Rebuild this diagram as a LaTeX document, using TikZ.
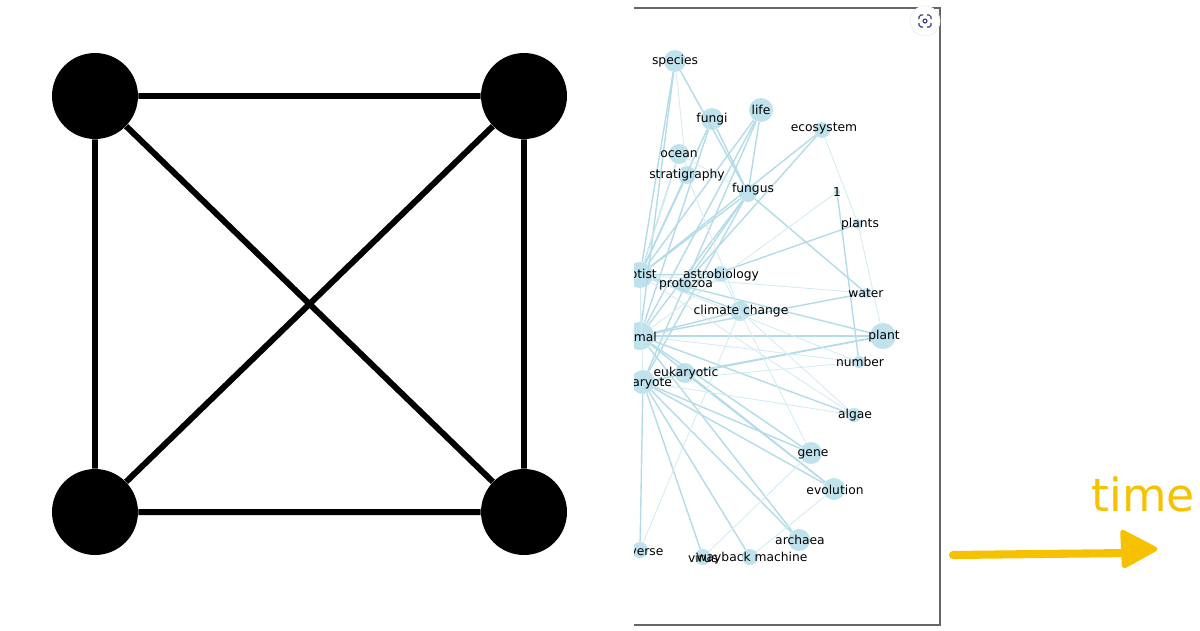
\documentclass[tikz,border=0pt]{standalone}
\usepackage{fontspec}
\setsansfont{DejaVu Sans}
\begin{document}
\begin{tikzpicture}[x=0.02cm,y=-0.02cm,
  big/.style={circle,fill=black,minimum size=1.72cm,inner sep=0pt},
  kedge/.style={line width=3.4pt},
  lbl/.style={font=\sffamily\fontsize{7pt}{8pt}\selectfont,text=black,inner sep=0pt},
  ed/.style={draw=edc,line width=0.8pt},
  edl/.style={draw=edc!55,line width=0.5pt}]
\definecolor{bubc}{HTML}{BFE2EC}
\definecolor{edc}{HTML}{B3DBE8}
\useasboundingbox (0,0) rectangle (1200,630);
% complete graph K4
\node[big] (a) at (95,96) {};
\node[big] (b) at (524,96) {};
\node[big] (c) at (95,512) {};
\node[big] (d) at (524,512) {};
\draw[kedge] (a)--(b) (b)--(d) (d)--(c) (c)--(a) (a)--(d) (b)--(c);
% network panel
\begin{scope}
\clip (634,8) rectangle (941,626);
\foreach \n/\x/\y/\r in {species/675/61/11, fungi/712/119/11, life/761/110/12, ecosystem/822/130/8,
 ocean/679/154/10, strat/687/175/9, fungus/748/193/9, one/837/192/3, plants/858/224/5,
 protist/640/275/13, astro/721/274/8, protozoa/684/285/8, water/866/293/5, climate/740/311/10,
 animal/640/336/14, plant/883/336/13, number/859/362/6, eukaryotic/685/373/10, eukaryote/643/382/12,
 algae/854/415/7, gene/811/453/11, evolution/834/489/11, archaea/799/540/11, universe/640/550/8,
 virus/703/557/8, wayback/750/557/8}
  \node[circle,fill=bubc,minimum size=2*\r*0.02cm,inner sep=0pt] (\n) at (\x,\y) {};
\foreach \s/\t in {protist/species, protist/fungi, protist/life, protist/ocean, protist/strat, protist/fungus,
 protist/ecosystem, protist/astro, protist/climate, protist/plant, animal/species, animal/fungi, animal/life,
 animal/fungus, animal/plant, animal/climate, animal/gene, animal/evolution, animal/archaea, animal/water,
 eukaryote/fungus, eukaryote/life, eukaryote/archaea, eukaryote/evolution, eukaryote/gene, eukaryote/universe,
 eukaryote/virus, eukaryote/wayback, eukaryote/plant, eukaryotic/evolution, eukaryotic/plant, protozoa/fungus,
 protozoa/ecosystem, species/fungus, fungus/water, one/number, fungi/fungus, life/fungus, protozoa/plants, animal/algae}
  \draw[ed] (\s)--(\t);
\foreach \s/\t in {protist/water, protist/number, protist/algae, animal/number, animal/one, eukaryote/algae,
 eukaryote/number, species/strat, ocean/fungus, strat/climate, astro/gene, climate/algae, universe/climate,
 virus/gene, wayback/evolution, protist/eukaryote, protist/animal, ecosystem/plants, plants/plant, ocean/protist}
  \draw[edl] (\s)--(\t);
\foreach \n/\t/\x/\y in {species/species/675/61, fungi/fungi/712/119, life/life/761/110, ecosystem/ecosystem/824/128,
 ocean/ocean/679/154, strat/stratigraphy/687/175, fungus/fungus/753/189, one/1/837/192, plants/plants/860/224,
 protist/protist/637/275, astro/astrobiology/721/275, protozoa/protozoa/686/284, water/water/866/293,
 climate/climate change/741/311, animal/animal/636/337, plant/plant/884/336, number/number/860/362,
 eukaryotic/eukaryotic/686/373, eukaryote/eukaryote/641/383, algae/algae/855/415, gene/gene/813/454,
 evolution/evolution/835/490, archaea/archaea/800/540, universe/universe/637/551, virus/virus/703/558,
 wayback/wayback machine/752/558}
  \node[lbl] (l\n) at (\x,\y) {\t};
\end{scope}
\draw[gray!80!black,line width=0.8pt] (634,8) -- (940,8) -- (940,625) -- (634,625);
% screenshot icon
\node[circle,fill=white,draw=gray!15,minimum size=0.6cm] (icon) at (925,21) {};
\draw[blue!40!gray!70!black,line width=0.6pt,rounded corners=1pt]
 (919,19)--(919,15)--(923,15) (927,15)--(931,15)--(931,19) (931,23)--(931,27)--(927,27) (923,27)--(919,27)--(919,23);
\draw[blue!40!gray!70!black,line width=0.6pt] (925,21) circle (2);
% time arrow
\definecolor{tyel}{HTML}{F6C100}
\coordinate (ts) at (953,555);
\coordinate (te) at (1128,553);
\draw[tyel,line width=4.6pt,line cap=round] (ts)--(te);
\fill[tyel,rounded corners=3pt] (1120,528) -- (1160,549) -- (1122,570) -- cycle;
\node[text=tyel,font=\sffamily\fontsize{26pt}{26pt}\selectfont,inner sep=0pt] (time) at (1143,494) {time};
\end{tikzpicture}
\end{document}
